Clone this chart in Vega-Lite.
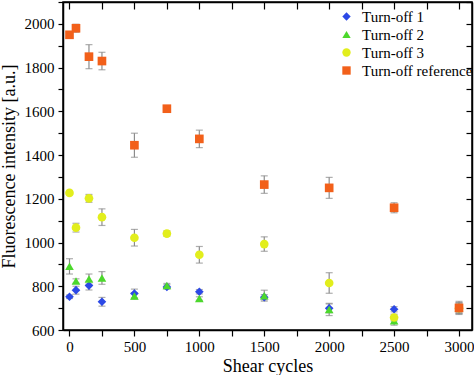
{
  "$schema": "https://vega.github.io/schema/vega-lite/v6.json",
  "autosize": {"type": "none"},
  "padding": {"left": 63, "top": 2, "right": 2, "bottom": 45},
  "width": 409,
  "height": 328,
  "background": "white",
  "config": {
    "view": {"stroke": "black", "strokeWidth": 1.5},
    "font": "Liberation Serif",
    "text": {"font": "Liberation Serif"},
    "axis": {"labelFont": "Liberation Serif", "titleFont": "Liberation Serif", "labelColor": "black", "titleColor": "black", "domainColor": "black", "tickColor": "black", "grid": false, "labelFontSize": 15, "titleFontSize": 18, "titleFontWeight": "normal", "domainWidth": 1.5, "tickWidth": 1.2},
    "legend": {"labelFont": "Liberation Serif", "labelFontSize": 15, "labelColor": "black"}
  },
  "data": {"values": [
    {"s": "Turn-off 1", "x": 0, "y": 752, "e": 8},
    {"s": "Turn-off 1", "x": 50, "y": 782, "e": 18},
    {"s": "Turn-off 1", "x": 150, "y": 803, "e": 20},
    {"s": "Turn-off 1", "x": 250, "y": 729, "e": 20},
    {"s": "Turn-off 1", "x": 500, "y": 767, "e": 20},
    {"s": "Turn-off 1", "x": 750, "y": 797, "e": 10},
    {"s": "Turn-off 1", "x": 1000, "y": 775, "e": 10},
    {"s": "Turn-off 1", "x": 1500, "y": 750, "e": 12},
    {"s": "Turn-off 1", "x": 2000, "y": 699, "e": 20},
    {"s": "Turn-off 1", "x": 2500, "y": 695, "e": 12},
    {"s": "Turn-off 1", "x": 3000, "y": 700, "e": 20},
    {"s": "Turn-off 2", "x": 0, "y": 891, "e": 35},
    {"s": "Turn-off 2", "x": 50, "y": 824, "e": 10},
    {"s": "Turn-off 2", "x": 150, "y": 833, "e": 23},
    {"s": "Turn-off 2", "x": 250, "y": 838, "e": 29},
    {"s": "Turn-off 2", "x": 500, "y": 756, "e": 15},
    {"s": "Turn-off 2", "x": 750, "y": 803, "e": 10},
    {"s": "Turn-off 2", "x": 1000, "y": 744, "e": 8},
    {"s": "Turn-off 2", "x": 1500, "y": 757, "e": 25},
    {"s": "Turn-off 2", "x": 2000, "y": 694, "e": 28},
    {"s": "Turn-off 2", "x": 2500, "y": 642, "e": 20},
    {"s": "Turn-off 2", "x": 3000, "y": 700, "e": 25},
    {"s": "Turn-off 3", "x": 0, "y": 1227, "e": 8},
    {"s": "Turn-off 3", "x": 50, "y": 1068, "e": 20},
    {"s": "Turn-off 3", "x": 150, "y": 1202, "e": 18},
    {"s": "Turn-off 3", "x": 250, "y": 1116, "e": 38},
    {"s": "Turn-off 3", "x": 500, "y": 1022, "e": 38},
    {"s": "Turn-off 3", "x": 750, "y": 1041, "e": 12},
    {"s": "Turn-off 3", "x": 1000, "y": 944, "e": 38},
    {"s": "Turn-off 3", "x": 1500, "y": 993, "e": 33},
    {"s": "Turn-off 3", "x": 2000, "y": 815, "e": 47},
    {"s": "Turn-off 3", "x": 2500, "y": 657, "e": 15},
    {"s": "Turn-off 3", "x": 3000, "y": 700, "e": 25},
    {"s": "Turn-off reference", "x": 0, "y": 1950, "e": 8},
    {"s": "Turn-off reference", "x": 50, "y": 1980, "e": 18},
    {"s": "Turn-off reference", "x": 150, "y": 1850, "e": 55},
    {"s": "Turn-off reference", "x": 250, "y": 1830, "e": 40},
    {"s": "Turn-off reference", "x": 500, "y": 1445, "e": 55},
    {"s": "Turn-off reference", "x": 750, "y": 1612, "e": 10},
    {"s": "Turn-off reference", "x": 1000, "y": 1474, "e": 40},
    {"s": "Turn-off reference", "x": 1500, "y": 1265, "e": 40},
    {"s": "Turn-off reference", "x": 2000, "y": 1250, "e": 48},
    {"s": "Turn-off reference", "x": 2500, "y": 1159, "e": 23},
    {"s": "Turn-off reference", "x": 3000, "y": 701, "e": 30}
  ]},
  "layer": [
    {
      "mark": {"type": "errorbar", "ticks": {"size": 7}, "color": "#8c8c8c", "thickness": 1.2},
      "encoding": {
        "x": {"field": "x", "type": "quantitative", "scale": {"domain": [-50, 3100], "nice": false},
          "axis": {"orient": "bottom", "title": "Shear cycles", "values": [0,250,500,750,1000,1250,1500,1750,2000,2250,2500,2750,3000],
            "labelExpr": "datum.value % 500 == 0 ? datum.value : ''", "tickSize": 6, "labelPadding": 3, "titlePadding": 3,
            "labelFont": "Liberation Serif", "labelFontSize": 15}},
        "y": {"field": "y", "type": "quantitative", "scale": {"domain": [600, 2100], "nice": false, "zero": false},
          "axis": {"orient": "left", "title": "Fluorescence intensity [a.u.]", "values": [600,700,800,900,1000,1100,1200,1300,1400,1500,1600,1700,1800,1900,2000,2100],
            "labelExpr": "datum.value % 200 == 0 && datum.value < 2100 ? datum.value : ''", "tickSize": 5, "labelPadding": 4, "titlePadding": 6,
            "labelFont": "Liberation Serif", "labelFontSize": 15}},
        "yError": {"field": "e"}
      }
    },
    {
      "mark": {"type": "point", "filled": true, "opacity": 1, "size": 75},
      "encoding": {
        "x": {"field": "x", "type": "quantitative",
          "axis": {"orient": "top", "title": null, "labels": false, "values": [0,250,500,750,1000,1250,1500,1750,2000,2250,2500,2750,3000], "tickSize": -7, "domain": true}},
        "y": {"field": "y", "type": "quantitative",
          "axis": {"orient": "right", "title": null, "labels": false, "values": [700,800,900,1000,1100,1200,1300,1400,1500,1600,1700,1800,1900,2000,2100], "tickSize": -6, "domain": true}},
        "color": {"field": "s", "type": "nominal",
          "scale": {"domain": ["Turn-off 1", "Turn-off 2", "Turn-off 3", "Turn-off reference"], "range": ["#2c49e6", "#4cd82c", "#e2ee1c", "#f2601a"]},
          "legend": {"title": null, "orient": "none", "legendX": 276, "legendY": 7, "rowPadding": 2, "symbolSize": 70, "labelOffset": 8, "padding": 0,
            "labelFont": "Liberation Serif", "labelFontSize": 15}},
        "shape": {"field": "s", "type": "nominal",
          "scale": {"domain": ["Turn-off 1", "Turn-off 2", "Turn-off 3", "Turn-off reference"], "range": ["diamond", "triangle-up", "circle", "square"]}}
      }
    }
  ],
  "resolve": {"axis": {"x": "independent", "y": "independent"}}
}
